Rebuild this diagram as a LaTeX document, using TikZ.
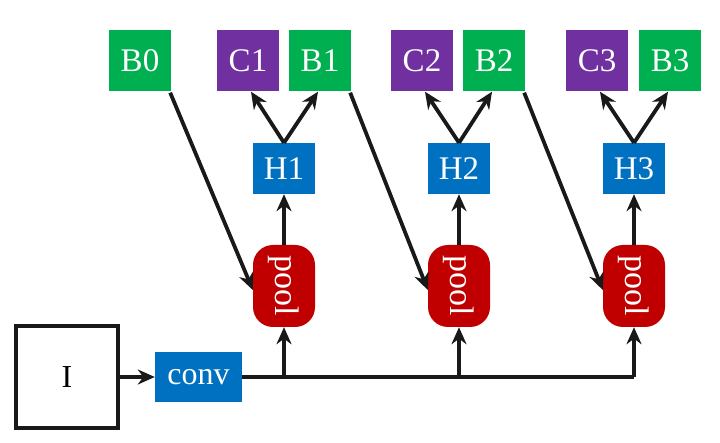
\documentclass[tikz,border=0pt]{standalone}
\usepackage{fontspec}
\setmainfont{Liberation Serif}
\usetikzlibrary{arrows.meta,calc}
\definecolor{bgreen}{RGB}{0,176,80}
\definecolor{bpurple}{RGB}{112,48,160}
\definecolor{bblue}{RGB}{0,112,192}
\definecolor{bred}{RGB}{192,0,0}
\tikzset{
  box/.style={draw=none,text=white,inner sep=0pt,font=\fontsize{33}{36}\selectfont},
  gbox/.style={box,fill=bgreen,minimum width=62pt,minimum height=61pt},
  pbox/.style={box,fill=bpurple,minimum width=62pt,minimum height=61pt},
  hbox/.style={box,fill=bblue,minimum width=62pt,minimum height=51pt},
  poolbox/.style={box,fill=bred,minimum width=62pt,minimum height=82pt,rounded corners=20pt,font=\fontsize{34}{36}\selectfont},
  conn/.style={line width=3.8pt,draw=black!90,-{Stealth[length=17pt,width=15pt]}},
  plain/.style={line width=3.8pt,draw=black!90},
}
\begin{document}
\begin{tikzpicture}[x=1pt,y=-1pt]
\useasboundingbox (0,0) rectangle (720,443);
% top row
\node[gbox] (B0) at (140,61) {B0};
\node[pbox] (C1) at (248,61) {C1};
\node[gbox] (B1) at (320,61) {B1};
\node[pbox] (C2) at (422,61) {C2};
\node[gbox] (B2) at (494,61) {B2};
\node[pbox] (C3) at (597,61) {C3};
\node[gbox] (B3) at (670,61) {B3};
% heads
\node[hbox] (H1) at (284,168.5) {H1};
\node[hbox] (H2) at (459,168.5) {H2};
\node[hbox] (H3) at (634,168.5) {H3};
% pools
\node[poolbox] (P1) at (284,286) {\rotatebox{-90}{pool}};
\node[poolbox] (P2) at (459,286) {\rotatebox{-90}{pool}};
\node[poolbox] (P3) at (634,286) {\rotatebox{-90}{pool}};
% input and conv
\node[draw=black!90,line width=4pt,minimum width=102pt,minimum height=102pt,inner sep=0pt,font=\fontsize{32}{36}\selectfont] (I) at (67,377) {I};
\node[box,fill=bblue,minimum width=87pt,minimum height=50pt,font=\fontsize{32}{36}\selectfont] (conv) at (198.5,377) {conv};
% connectors
\draw[conn] (I.east) -- (conv.west);
\draw[plain] (conv.east) -- (P3.south |- conv.east);
\draw[conn] (P1.south |- conv.east) -- (P1.south);
\draw[conn] (P2.south |- conv.east) -- (P2.south);
\draw[conn] (P3.south |- conv.east) -- (P3.south);
\foreach \i in {1,2,3}{
  \draw[conn] (P\i.north) -- (H\i.south);
  \draw[conn] (H\i.north) -- ([xshift=3pt]C\i.south);
  \draw[conn] (H\i.north) -- ([xshift=-2pt]B\i.south);
}
\draw[conn] ([xshift=-1pt,yshift=-1pt]B0.south east) -- ([yshift=-4pt]P1.west);
\draw[conn] ([xshift=-1pt,yshift=-1pt]B1.south east) -- ([yshift=-4pt]P2.west);
\draw[conn] ([xshift=-1pt,yshift=-1pt]B2.south east) -- ([yshift=-4pt]P3.west);
\end{tikzpicture}
\end{document}
